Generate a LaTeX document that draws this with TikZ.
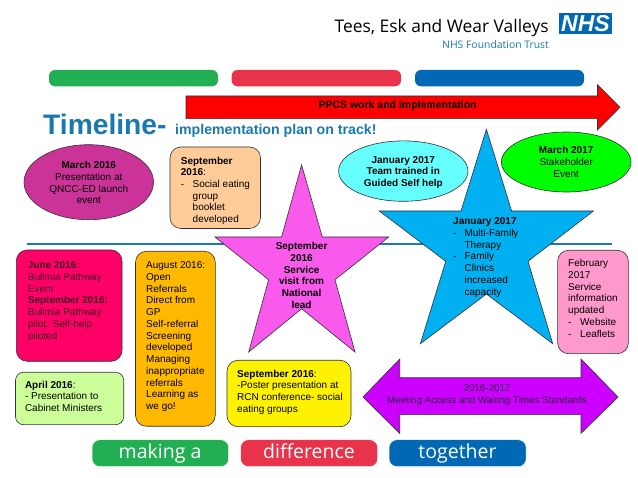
\documentclass[tikz,border=0pt]{standalone}
\usepackage{fontspec}
\setmainfont{Liberation Sans}
\newfontfamily\logofont{Open Sans}
\definecolor{nhsgreen}{HTML}{22AE52}
\definecolor{nhsred}{HTML}{E8334A}
\definecolor{nhsblue}{HTML}{0068B4}
\definecolor{titleblue}{HTML}{1A78B0}
\definecolor{edge}{HTML}{30303A}
\newcommand{\tf}{\fontsize{10}{11.72}\selectfont}
\newcommand{\dsh}[1]{\makebox[#1][l]{-}}
\tikzset{
  x=1pt,y=-1pt,
  shp/.style={draw=edge,line width=0.6pt},
  bar/.style={rounded corners=6pt},
  pill/.style={rounded corners=8pt,draw=white,line width=0.5pt},
  txt/.style={anchor=north west,align=left,inner sep=0pt,font=\tf},
  ctxt/.style={anchor=north,align=center,inner sep=0pt,font=\tf},
  pilltext/.style={text=white,font=\logofont\fontsize{19.5}{24}\selectfont,inner sep=0pt},
  rbox/.style={shp,rounded corners=11pt},
}
\begin{document}
\begin{tikzpicture}
\useasboundingbox (0,0) rectangle (638,478);
% logo
\node[anchor=base west,inner sep=0pt,font=\logofont\fontsize{17.4}{20}\selectfont] (trust) at (334.5,32.3) {Tees, Esk and Wear Valleys};
\fill[nhsblue] (559,12.7) rectangle (612,34.3);
\node[inner sep=0pt,text=white,font=\bfseries\itshape\fontsize{23}{24}\selectfont] (nhs) at (585.5,23.5) {NHS};
\node[anchor=base west,inner sep=0pt,text=titleblue,font=\logofont\fontsize{10.4}{12}\selectfont] (ft) at (442,48.3) {NHS Foundation Trust};
% top bars
\fill[nhsgreen,bar] (49,70) rectangle (218,86.3);
\fill[nhsred,bar] (231.6,70) rectangle (401,86.3);
\fill[nhsblue,bar] (415,70) rectangle (584,86.3);
% red arrow
\draw[shp,fill=red] (186,96) -- (597.5,96) -- (597.5,84.7) -- (620,107.3) -- (597.5,130) -- (597.5,118.7) -- (186,118.7) -- cycle;
\node[inner sep=0pt,font=\bfseries\fontsize{10.5}{12}\selectfont] (ppcs) at (397.6,106) {PPCS work and implementation};
% title
\node[anchor=base west,inner sep=0pt,text=titleblue,font=\bfseries\fontsize{28.2}{30}\selectfont] (tl) at (43,135) {Timeline-};
\node[anchor=base west,inner sep=0pt,text=titleblue,font=\bfseries\fontsize{14.15}{16}\selectfont] (plan) at (175,135) {implementation plan on track!};
% line
\draw[color=nhsblue!90!white,line width=2.6pt] (26.5,244) -- (611.7,244);
% ellipses
\draw[shp,fill={rgb,255:red,204;green,51;blue,153}] (88.75,182.2) ellipse [x radius=64.75,y radius=37.5];
\node[ctxt] (m16) at (88.75,160.4) {\strut\textbf{March 2016}\\Presentation at\\QNCC-ED launch\\event};
\draw[shp,fill={rgb,255:red,102;green,255;blue,255}] (403.3,171.1) ellipse [x radius=64.7,y radius=30.2];
\node[ctxt,font=\tf\bfseries] (j17a) at (403.3,154.8) {\strut January 2017\\Team trained in\\Guided Self help};
\draw[shp,fill={rgb,255:red,0;green,255;blue,0}] (566.2,162) ellipse [x radius=64.8,y radius=30];
\node[ctxt] (m17) at (566.2,145.4) {\strut\textbf{March 2017}\\Stakeholder\\Event};
% orange top box
\draw[rbox,fill={rgb,255:red,255;green,204;blue,153}] (170,147) rectangle (260.5,228.5);
\node[txt] (s16a) at (180.7,155.7) {\strut\textbf{September}\\\textbf{2016}:\\\dsh{11.8pt}Social eating\\\hspace{11.8pt}group\\\hspace{11.8pt}booklet\\\hspace{11.8pt}developed};
% stars
\draw[shp,fill={rgb,255:red,250;green,90;blue,235}] (301.6,165) -- (322.3,237) -- (388.7,237) -- (335,279.7) -- (355,352) -- (301.6,308.7) -- (248.7,352) -- (268.6,279.7) -- (215,237) -- (281.6,237) -- cycle;
\node[ctxt,font=\tf\bfseries] (s16b) at (301.6,241.4) {\strut September\\2016\\Service\\visit from\\National\\lead};
\draw[shp,fill={rgb,255:red,0;green,176;blue,240}] (486.4,129.3) -- (511.6,211) -- (593.4,211) -- (528,261.3) -- (552.7,343.7) -- (486.4,294) -- (420.4,343.7) -- (445.7,261.3) -- (379.3,211) -- (461,211) -- cycle;
\node[txt] (j17b) at (453,216.4) {\strut\textbf{January 2017}\\\dsh{11.4pt}Multi-Family\\\hspace{11.4pt}Therapy\\\dsh{11.4pt}Family\\\hspace{11.4pt}Clinics\\\hspace{11.4pt}increased\\\hspace{11.4pt}capacity};
% left boxes
\draw[rbox,fill={rgb,255:red,255;green,0;blue,102}] (16.3,250) rectangle (122,361.3);
\node[txt,text={rgb,255:red,70;green,0;blue,40}] (june) at (27.7,260.4) {\strut\textbf{June 2016:}\\Bulimia Pathway\\Event\\\textbf{September 2016:}\\Bulimia Pathway\\pilot. Self-help\\piloted};
\draw[shp,rounded corners=8pt,fill={rgb,255:red,204;green,255;blue,153}] (15.5,372.3) rectangle (123.7,424.7);
\node[txt] (apr) at (24.8,379.7) {\strut\textbf{April 2016}:\\- Presentation to\\Cabinet Ministers};
\draw[rbox,fill={rgb,255:red,255;green,185;blue,0}] (135.5,251.3) rectangle (215.3,426.3);
\node[txt] (aug) at (146,260.4) {\strut August 2016:\\Open\\Referrals\\Direct from\\GP\\Self-referral\\Screening\\developed\\Managing\\inappropriate\\referrals\\Learning as\\we go!};
\draw[rbox,fill=yellow] (227,360.3) rectangle (351,426.7);
\node[txt] (sep) at (237,368.7) {\strut\textbf{September 2016}:\\-Poster presentation at\\RCN conference- social\\eating groups};
\draw[rbox,fill={rgb,255:red,255;green,153;blue,204}] (557.6,250.3) rectangle (628.4,353.7);
\node[txt] (feb) at (568,258.4) {\strut February\\2017\\Service\\information\\updated\\\dsh{12pt}Website\\\dsh{12pt}Leaflets};
% purple arrow
\draw[shp,fill={rgb,255:red,204;green,0;blue,255}] (363,397) -- (399.7,359) -- (399.7,377.7) -- (581,377.7) -- (581,359) -- (618,397) -- (581,433.3) -- (581,414.7) -- (399.7,414.7) -- (399.7,433.3) -- cycle;
\node[ctxt,font=\fontsize{9.8}{11.72}\selectfont,text={rgb,255:red,50;green,0;blue,70}] (meet) at (487,382.9) {\strut 2016-2017\\Meeting Access and Waiting Times Standards};
% bottom pills
\fill[nhsgreen,pill] (92,439.7) rectangle (228.7,466.7);
\fill[nhsred,pill] (240.5,439.7) rectangle (377.7,466.7);
\fill[nhsblue,pill] (389,439.7) rectangle (526.2,466.7);
\node[pilltext,anchor=base] (mk) at (160,459) {making a};
\node[pilltext,anchor=base] (df) at (309,459) {difference};
\node[pilltext,anchor=base] (tg) at (457.5,459) {together};
\end{tikzpicture}
\end{document}
